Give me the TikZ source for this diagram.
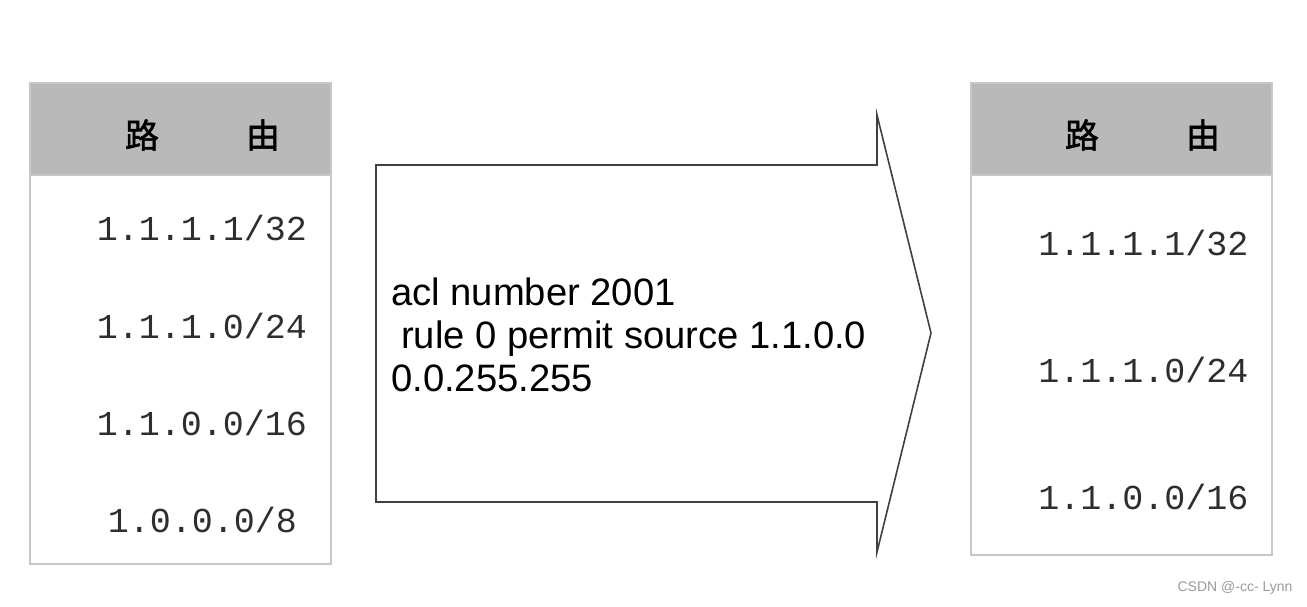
\documentclass[tikz,border=0pt]{standalone}
\usepackage{fontspec}
\setmainfont{Liberation Sans}
\setmonofont{Liberation Mono}
\newfontfamily\cjk[FakeBold=1.6]{Noto Sans CJK SC}
\usepackage{tikz}
\usetikzlibrary{%
  calc,%
  positioning}

\definecolor{hdrgray}{HTML}{B9B9B9}
\definecolor{framegray}{HTML}{C8C8C8}
\definecolor{arrowgray}{HTML}{404040}
\definecolor{textgray}{HTML}{2E2E2E}
\definecolor{markgray}{HTML}{9A9A9A}

\tikzset{
  tablehead/.style={rectangle,draw=framegray,fill=hdrgray,line width=1.5pt,inner sep=0pt,minimum width=301pt},
  tablebody/.style={rectangle,draw=framegray,fill=white,line width=1.5pt,inner sep=0pt,minimum width=301pt},
  hdrchar/.style={font=\cjk\fontsize{34}{34}\selectfont,inner sep=0pt},
  route/.style={font=\ttfamily\fontsize{35}{35}\selectfont,text=textgray,inner sep=0pt}
}

\begin{document}
\begin{tikzpicture}[x=1pt,y=-1pt]
\useasboundingbox (0,0) rectangle (1307,606);
% tables et noeuds
\node (LB) at (180.5,369.5) [tablebody,minimum height=389pt] {};
\node (LH) at (180.5,129) [tablehead,minimum height=92pt] {};
\node (LH1) at (142,135) [hdrchar] {路};
\node (LH2) at (263,135) [hdrchar] {由};
\node (L1) at (202,228) [route] {1.1.1.1/32};
\node (L2) at (202,326) [route] {1.1.1.0/24};
\node (L3) at (202,423) [route] {1.1.0.0/16};
\node (L4) at (202.5,520) [route] {1.0.0.0/8};

\node (RB) at (1121.5,365) [tablebody,minimum height=380pt] {};
\node (RH) at (1121.5,129) [tablehead,minimum height=92pt] {};
\node (RH1) at (1082,135) [hdrchar] {路};
\node (RH2) at (1203,135) [hdrchar] {由};
\node (R1) at (1143.5,243) [route] {1.1.1.1/32};
\node (R2) at (1143.5,370) [route] {1.1.1.0/24};
\node (R3) at (1143.5,497) [route] {1.1.0.0/16};

% la fleche
\draw[arrowgray,line width=1.6pt,line join=miter] (376,165) -- (877,165) -- (877,115) -- (931,333) -- (877,552) -- (877,502) -- (376,502) -- cycle;
\node (ACL) at (391,335) [anchor=west,align=left,inner sep=0pt,font=\fontsize{38.2}{43}\selectfont] {acl number 2001\\\hspace*{10pt}rule 0 permit source 1.1.0.0\\0.0.255.255};

\node (CSDN) at (1235,588) [text=markgray,inner sep=0pt,font=\fontsize{14}{16}\selectfont] {CSDN @-cc- Lynn};
\end{tikzpicture}
\end{document}
